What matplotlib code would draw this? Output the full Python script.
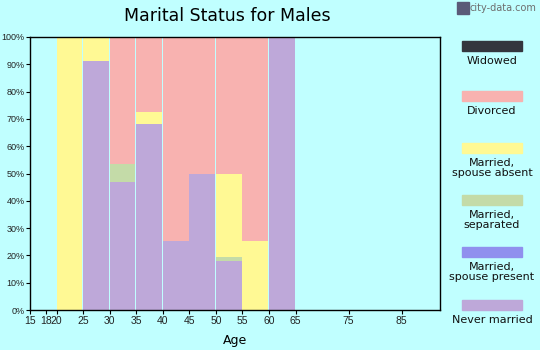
import numpy as np
import matplotlib
matplotlib.use("Agg")
import matplotlib.pyplot as plt
from matplotlib.patches import Rectangle

# Age groups (left edge of each 5-year bin)
edades = [20, 25, 30, 35, 40, 45, 50, 55, 60]

# Percent of males in each status, per age group
nunca_casado = [0, 91.3, 47.0, 68.2, 25.3, 50.0, 18.0, 0, 100.0]
casado_presente = [0, 0, 0, 0, 0, 0, 0, 0, 0]
separado = [0, 0, 6.6, 0, 0, 0, 1.4, 0, 0]
casado_ausente = [100.0, 8.7, 0, 4.4, 0, 0, 30.6, 25.3, 0]
divorciado = [0, 0, 46.4, 27.4, 74.7, 50.0, 50.0, 74.7, 0]
viudo = [0, 0, 0, 0, 0, 0, 0, 0, 0]

series = [nunca_casado, casado_presente, separado, casado_ausente, divorciado, viudo]
colores = ["#bea8d9", "#9090ee", "#c4dba8", "#fff994", "#f8b2b0", "#34363e"]
etiquetas = ["Never married", "Married,\nspouse present", "Married,\nseparated",
             "Married,\nspouse absent", "Divorced", "Widowed"]

ticks_x = [15, 18, 20, 25, 30, 35, 40, 45, 50, 55, 60, 65, 75, 85]
ticks_y = np.arange(0, 101, 10)

fondo = "#c0ffff"

fig = plt.figure(figsize=(5.4, 3.5), dpi=100, facecolor=fondo)
ax = fig.add_axes([30 / 540, 40 / 350, 410 / 540, 273 / 350], facecolor=fondo)

base = np.zeros(len(edades))
for valores, color in zip(series, colores):
    ax.bar(edades, valores, width=4.85, bottom=base, align="edge",
           color=color, edgecolor="none")
    base += np.array(valores)

ax.set_xlim(15, 92.2)
ax.set_ylim(0, 100)
ax.set_xticks(ticks_x)
ax.set_xticklabels([str(t) for t in ticks_x], fontsize=7.5, family="Liberation Sans",
                   color="#222222")
ax.set_yticks(ticks_y)
ax.set_yticklabels([f"{t}%" for t in ticks_y], fontsize=6.5, family="Liberation Sans",
                   color="#222222")
ax.tick_params(length=3, width=0.8, pad=1)
for s in ax.spines.values():
    s.set_linewidth(1.0)
    s.set_color("black")

ax.set_xlabel("Age", fontsize=9, family="DejaVu Sans", labelpad=6)
fig.text(227 / 540, 1 - 16 / 350, "Marital Status for Males", fontsize=12.5,
         ha="center", va="center", family="DejaVu Sans")

# watermark
fig.text(1 - 4 / 540, 1 - 8 / 350, "city-data.com", fontsize=7, ha="right", va="center",
         color="#6e6e6e", family="DejaVu Sans")
fig.patches.append(Rectangle((457 / 540, 1 - 14 / 350), 12 / 540, 12 / 350,
                             transform=fig.transFigure, color="#5a5a78"))

# legend on the right, top to bottom
posiciones = [46, 96, 148, 200, 252, 305]
for i, (etq, col) in enumerate(zip(etiquetas[::-1], colores[::-1])):
    y = posiciones[i]
    fig.patches.append(Rectangle((462 / 540, 1 - (y + 5) / 350), 60 / 540, 10 / 350,
                                 transform=fig.transFigure, color=col))
    fig.text(492 / 540, 1 - (y + 10) / 350, etq, fontsize=8, ha="center", va="top",
             linespacing=1.05, family="DejaVu Sans", color="#111111")

fig.savefig("out.png", dpi=100, facecolor=fondo)
